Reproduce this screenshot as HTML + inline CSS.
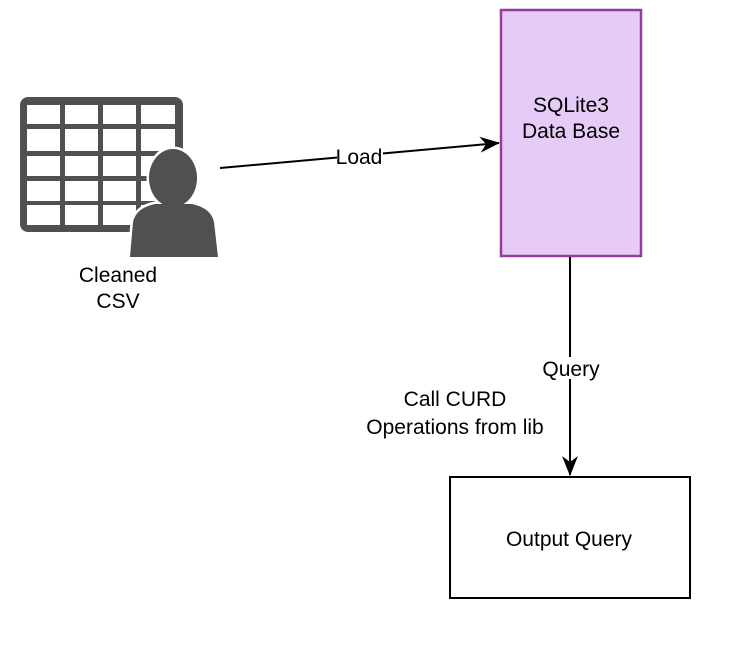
<!DOCTYPE html>
<html><head><style>
html,body{margin:0;padding:0;background:#fff;}
svg{display:block;}
text{font-family:"Liberation Sans",Helvetica,Arial,sans-serif;font-size:21px;fill:#000;}
</style></head><body>
<svg width="736" height="671" viewBox="0 0 736 671" xmlns="http://www.w3.org/2000/svg">
<defs>
<marker id="ah" markerWidth="24" markerHeight="24" refX="19" refY="10" orient="auto" markerUnits="userSpaceOnUse">
<path d="M0,2 L20,10 L0,18 L6,10 Z" fill="#000"/>
</marker>
</defs>
<rect x="20" y="97" width="163" height="135" rx="8" fill="#505050"/>
<g fill="#fff">
<rect x="27" y="105" width="33" height="19"/><rect x="65" y="105" width="33" height="19"/><rect x="103" y="105" width="33" height="19"/><rect x="141" y="105" width="34" height="19"/>
<rect x="27" y="129" width="33" height="22"/><rect x="65" y="129" width="33" height="22"/><rect x="103" y="129" width="33" height="22"/><rect x="141" y="129" width="34" height="22"/>
<rect x="27" y="156" width="33" height="20"/><rect x="65" y="156" width="33" height="20"/><rect x="103" y="156" width="33" height="20"/><rect x="141" y="156" width="34" height="20"/>
<rect x="27" y="181" width="33" height="20"/><rect x="65" y="181" width="33" height="20"/><rect x="103" y="181" width="33" height="20"/><rect x="141" y="181" width="34" height="20"/>
<rect x="27" y="205" width="33" height="20"/><rect x="65" y="205" width="33" height="20"/><rect x="103" y="205" width="33" height="20"/><rect x="141" y="205" width="34" height="20"/>
</g>
<g stroke="#fff" stroke-width="5" fill="#505050">
<path d="M130,257 L133,222 Q136,208 155,204 L192,204 Q211,208 214,222 L218,257 Z"/>
<ellipse cx="173" cy="178" rx="24" ry="29"/>
</g>
<path d="M130,257 L133,222 Q136,208 155,204 L192,204 Q211,208 214,222 L218,257 Z" fill="#505050"/>
<ellipse cx="173" cy="178" rx="24" ry="29" fill="#505050"/>
<text x="118" y="282" text-anchor="middle">Cleaned</text>
<text x="118" y="308" text-anchor="middle">CSV</text>
<line x1="220" y1="168" x2="499" y2="143" stroke="#000" stroke-width="2" marker-end="url(#ah)"/>
<rect x="337" y="147" width="46" height="20" fill="#fff"/>
<text x="359" y="164" text-anchor="middle">Load</text>
<rect x="501" y="10" width="140" height="246" fill="#e6cbf7" stroke="#953c98" stroke-width="2.5"/>
<text x="571" y="112" text-anchor="middle">SQLite3</text>
<text x="571" y="138" text-anchor="middle">Data Base</text>
<line x1="570" y1="257" x2="570" y2="475" stroke="#000" stroke-width="2" marker-end="url(#ah)"/>
<rect x="540" y="357" width="62" height="22" fill="#fff"/>
<text x="571" y="376" text-anchor="middle">Query</text>
<text x="455" y="406" text-anchor="middle">Call CURD</text>
<text x="455" y="434" text-anchor="middle">Operations from lib</text>
<rect x="450" y="477" width="240" height="121" fill="#fff" stroke="#000" stroke-width="2"/>
<text x="569" y="546" text-anchor="middle">Output Query</text>
</svg>
</body></html>
